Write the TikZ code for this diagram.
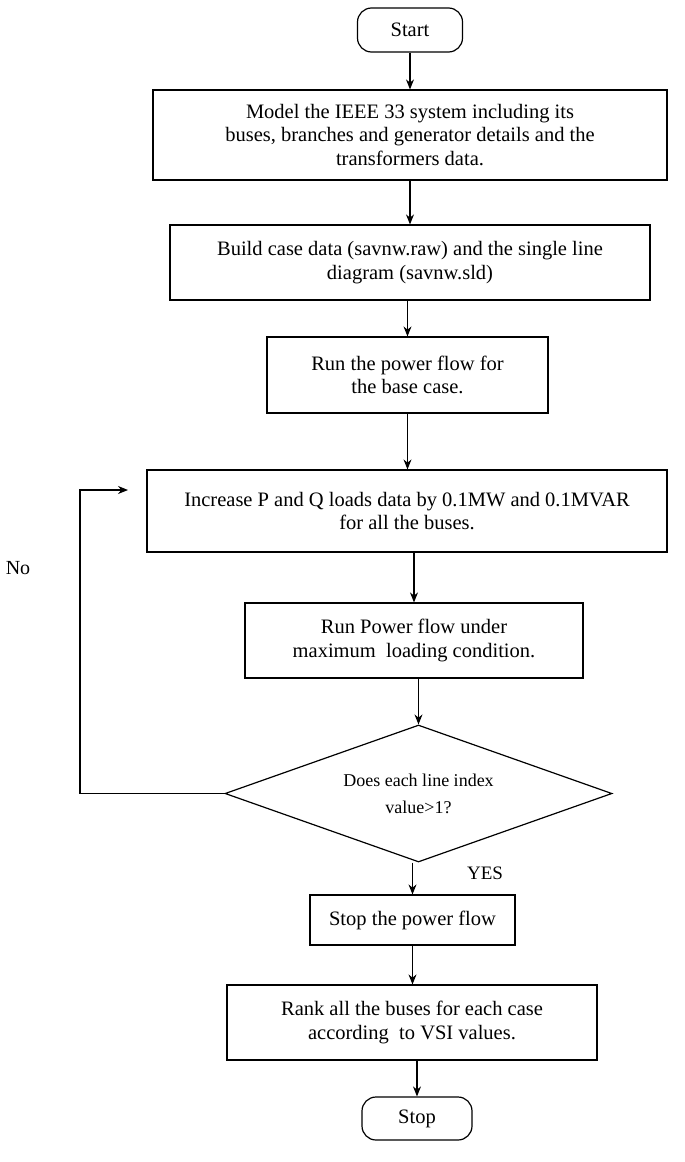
\documentclass[tikz,border=0pt]{standalone}
\usepackage{fontspec}
\setmainfont{Liberation Serif}
\usetikzlibrary{shapes.geometric,arrows.meta}
\begin{document}
\begin{tikzpicture}[x=1pt,y=-1pt,
  box/.style={draw,line width=1.2pt,align=center,font=\fontsize{20.5}{23.5}\selectfont,inner sep=0pt},
  term/.style={box,rounded corners=14pt},
  arr/.style={-{Stealth[length=10pt,width=8pt]},line width=1.2pt}]
\useasboundingbox (0,0) rectangle (685,1162);
\node[term,minimum width=105pt,minimum height=44pt] (start) at (410,30) {Start};
\node[box,minimum width=514pt,minimum height=90pt] (b1) at (410,135) {Model the IEEE 33 system including its\\buses, branches and generator details and the\\transformers data.};
\node[box,minimum width=480pt,minimum height=75pt] (b2) at (410,262.5) {Build case data (savnw.raw) and the single line\\diagram (savnw.sld)};
\node[box,minimum width=281pt,minimum height=76pt] (b3) at (407.5,375) {Run the power flow for\\the base case.};
\node[box,minimum width=520pt,minimum height=82pt] (b4) at (407,511) {Increase P and Q loads data by 0.1MW and 0.1MVAR\\for all the buses.};
\node[box,minimum width=338pt,minimum height=75pt] (b5) at (414,640.5) {Run Power flow under\\maximum\ \ loading condition.};
\node[draw,line width=1.2pt,diamond,aspect=2.82,minimum width=387pt,minimum height=137pt,inner sep=0pt,align=center,font=\fontsize{18}{27}\selectfont] (d) at (418.5,793.5) {Does each line index\\value>1?};
\node[box,minimum width=205pt,minimum height=50pt] (b6) at (412.5,920) {Stop the power flow};
\node[box,minimum width=370pt,minimum height=75pt] (b7) at (412,1022.5) {Rank all the buses for each case\\according\ \ to VSI values.};
\node[term,minimum width=110pt,minimum height=43pt] (stop) at (417,1118.5) {Stop};
\draw[arr] (start.south) -- (b1.north);
\draw[arr] (b1.south) -- (b1.south|-b2.north);
\draw[arr] (b2.south-|b3.north) -- (b3.north);
\draw[arr] (b3.south) -- (b3.south|-b4.north);
\draw[arr] (b4.south-|b5.north) -- (b5.north);
\draw[arr] (b5.south-|d.north) -- (d.north);
\draw[arr] (d.south-|b6.north) -- (b6.north);
\draw[arr] (b6.south) -- (b6.south|-b7.north);
\draw[arr] (b7.south-|stop.north) -- (stop.north);
\coordinate (c1) at (80,793.5);
\coordinate (c2) at (80,490);
\coordinate (c3) at (128,490);
\draw[arr] (d.west) -- (c1) -- (c2) -- (c3);
\node[font=\fontsize{20}{22}\selectfont] (no) at (18,568) {No};
\node[font=\fontsize{19}{22}\selectfont] (yes) at (485,873) {YES};
\end{tikzpicture}
\end{document}
